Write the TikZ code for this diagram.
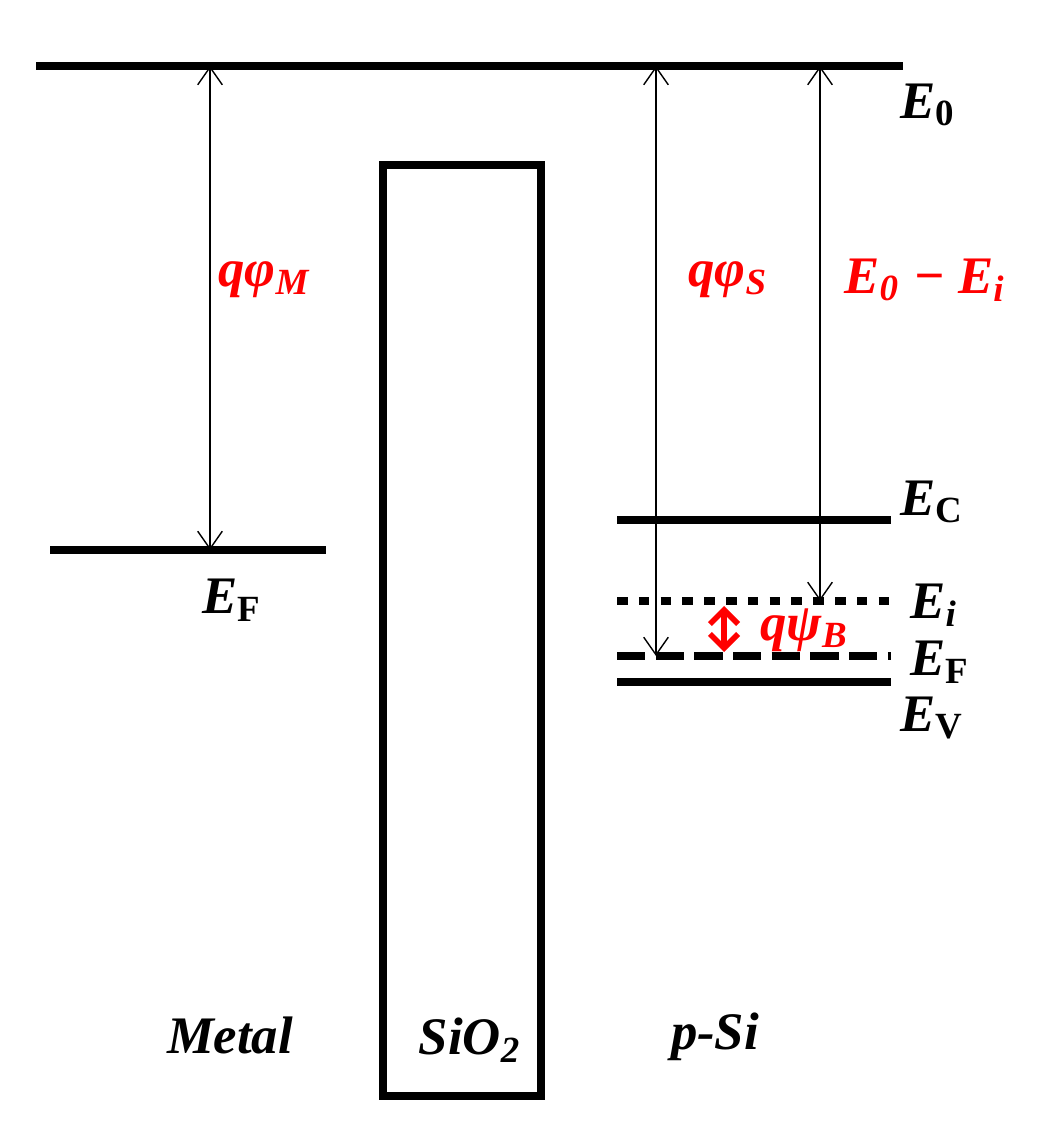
\documentclass[tikz,border=0pt]{standalone}
\usepackage{fontspec}
\setmainfont{Liberation Serif}
\usetikzlibrary{arrows.meta}
\newcommand{\bi}[1]{\textbf{\textit{#1}}}
\newcommand{\lev}[2]{\bi{E}\textsubscript{\textbf{#2}}}
\begin{document}
\begin{tikzpicture}[x=0.01cm, y=-0.01cm, every node/.style={font=\fontsize{15}{17}\selectfont},
    level/.style={line width=2.3pt},
    gap/.style={{Straight Barb[length=5pt,width=7pt]}-{Straight Barb[length=5pt,width=7pt]}, line width=0.4pt},
    lbl/.style={text=red, anchor=west, font=\fontsize{15}{17}\selectfont\bfseries\itshape}]
    % frame
    \useasboundingbox (0,0) rectangle (1059,1121);

    % vacuum level
    \coordinate (v0) at (36,66);
    \coordinate (v1) at (903,66);
    \draw[level] (v0) -- (v1);
    \node (e0) at (928,105) {\lev{E}{0}};

    % oxide
    \draw[line width=2.1pt] (383,165) rectangle (541,1096);

    % metal side
    \coordinate (mf0) at (50,550);
    \coordinate (mf1) at (326,550);
    \draw[level] (mf0) -- (mf1);
    \node (mef) at (232,600) {\lev{E}{F}};
    \coordinate (mtop) at (210,66);
    \coordinate (mbot) at (210,550);
    \draw[gap] (mtop) -- (mbot);
    \node[lbl] (phim) at (206,280) {qφ\textsubscript{M}};

    % semiconductor side
    \draw[level] (617,520) coordinate (c0) -- (891,520) coordinate (c1);
    \draw[level, dash pattern=on 3pt off 3.2pt] (617,601) coordinate (i0) -- (891,601) coordinate (i1);
    \draw[level, dash pattern=on 8pt off 3pt] (617,656) coordinate (f0) -- (891,656) coordinate (f1);
    \draw[level] (617,682) coordinate (v0s) -- (891,682) coordinate (v1s);
    \node (ec) at (932,502) {\lev{E}{C}};
    \node (ei) at (934,605) {\bi{E}\textsubscript{\bi{i}}};
    \node (esf) at (940,662) {\lev{E}{F}};
    \node (ev) at (932,718) {\lev{E}{V}};

    \coordinate (stop) at (656,66);
    \coordinate (sbot) at (656,656);
    \draw[gap] (stop) -- (sbot);
    \node[lbl] (phis) at (676,280) {qφ\textsubscript{S}};

    \coordinate (itop) at (820,66);
    \coordinate (ibot) at (820,601);
    \draw[gap] (itop) -- (ibot);
    \node[lbl] (e0ei) at (832,280) {E\textsubscript{0} − E\textsubscript{i}};

    \coordinate (btop) at (724,606);
    \coordinate (bbot) at (724,652);
    \draw[red, line width=1.6pt, {Straight Barb[length=4pt,width=8pt]}-{Straight Barb[length=4pt,width=8pt]}] (btop) -- (bbot);
    \node[lbl] (psib) at (748,630) {qψ\textsubscript{B}};

    % region names
    \node (metal) at (230,1035) {\bi{Metal}};
    \node (sio) at (470,1040) {\bi{SiO\textsubscript{2}}};
    \node (psi) at (715,1037) {\bi{p-Si}};
\end{tikzpicture}
\end{document}
